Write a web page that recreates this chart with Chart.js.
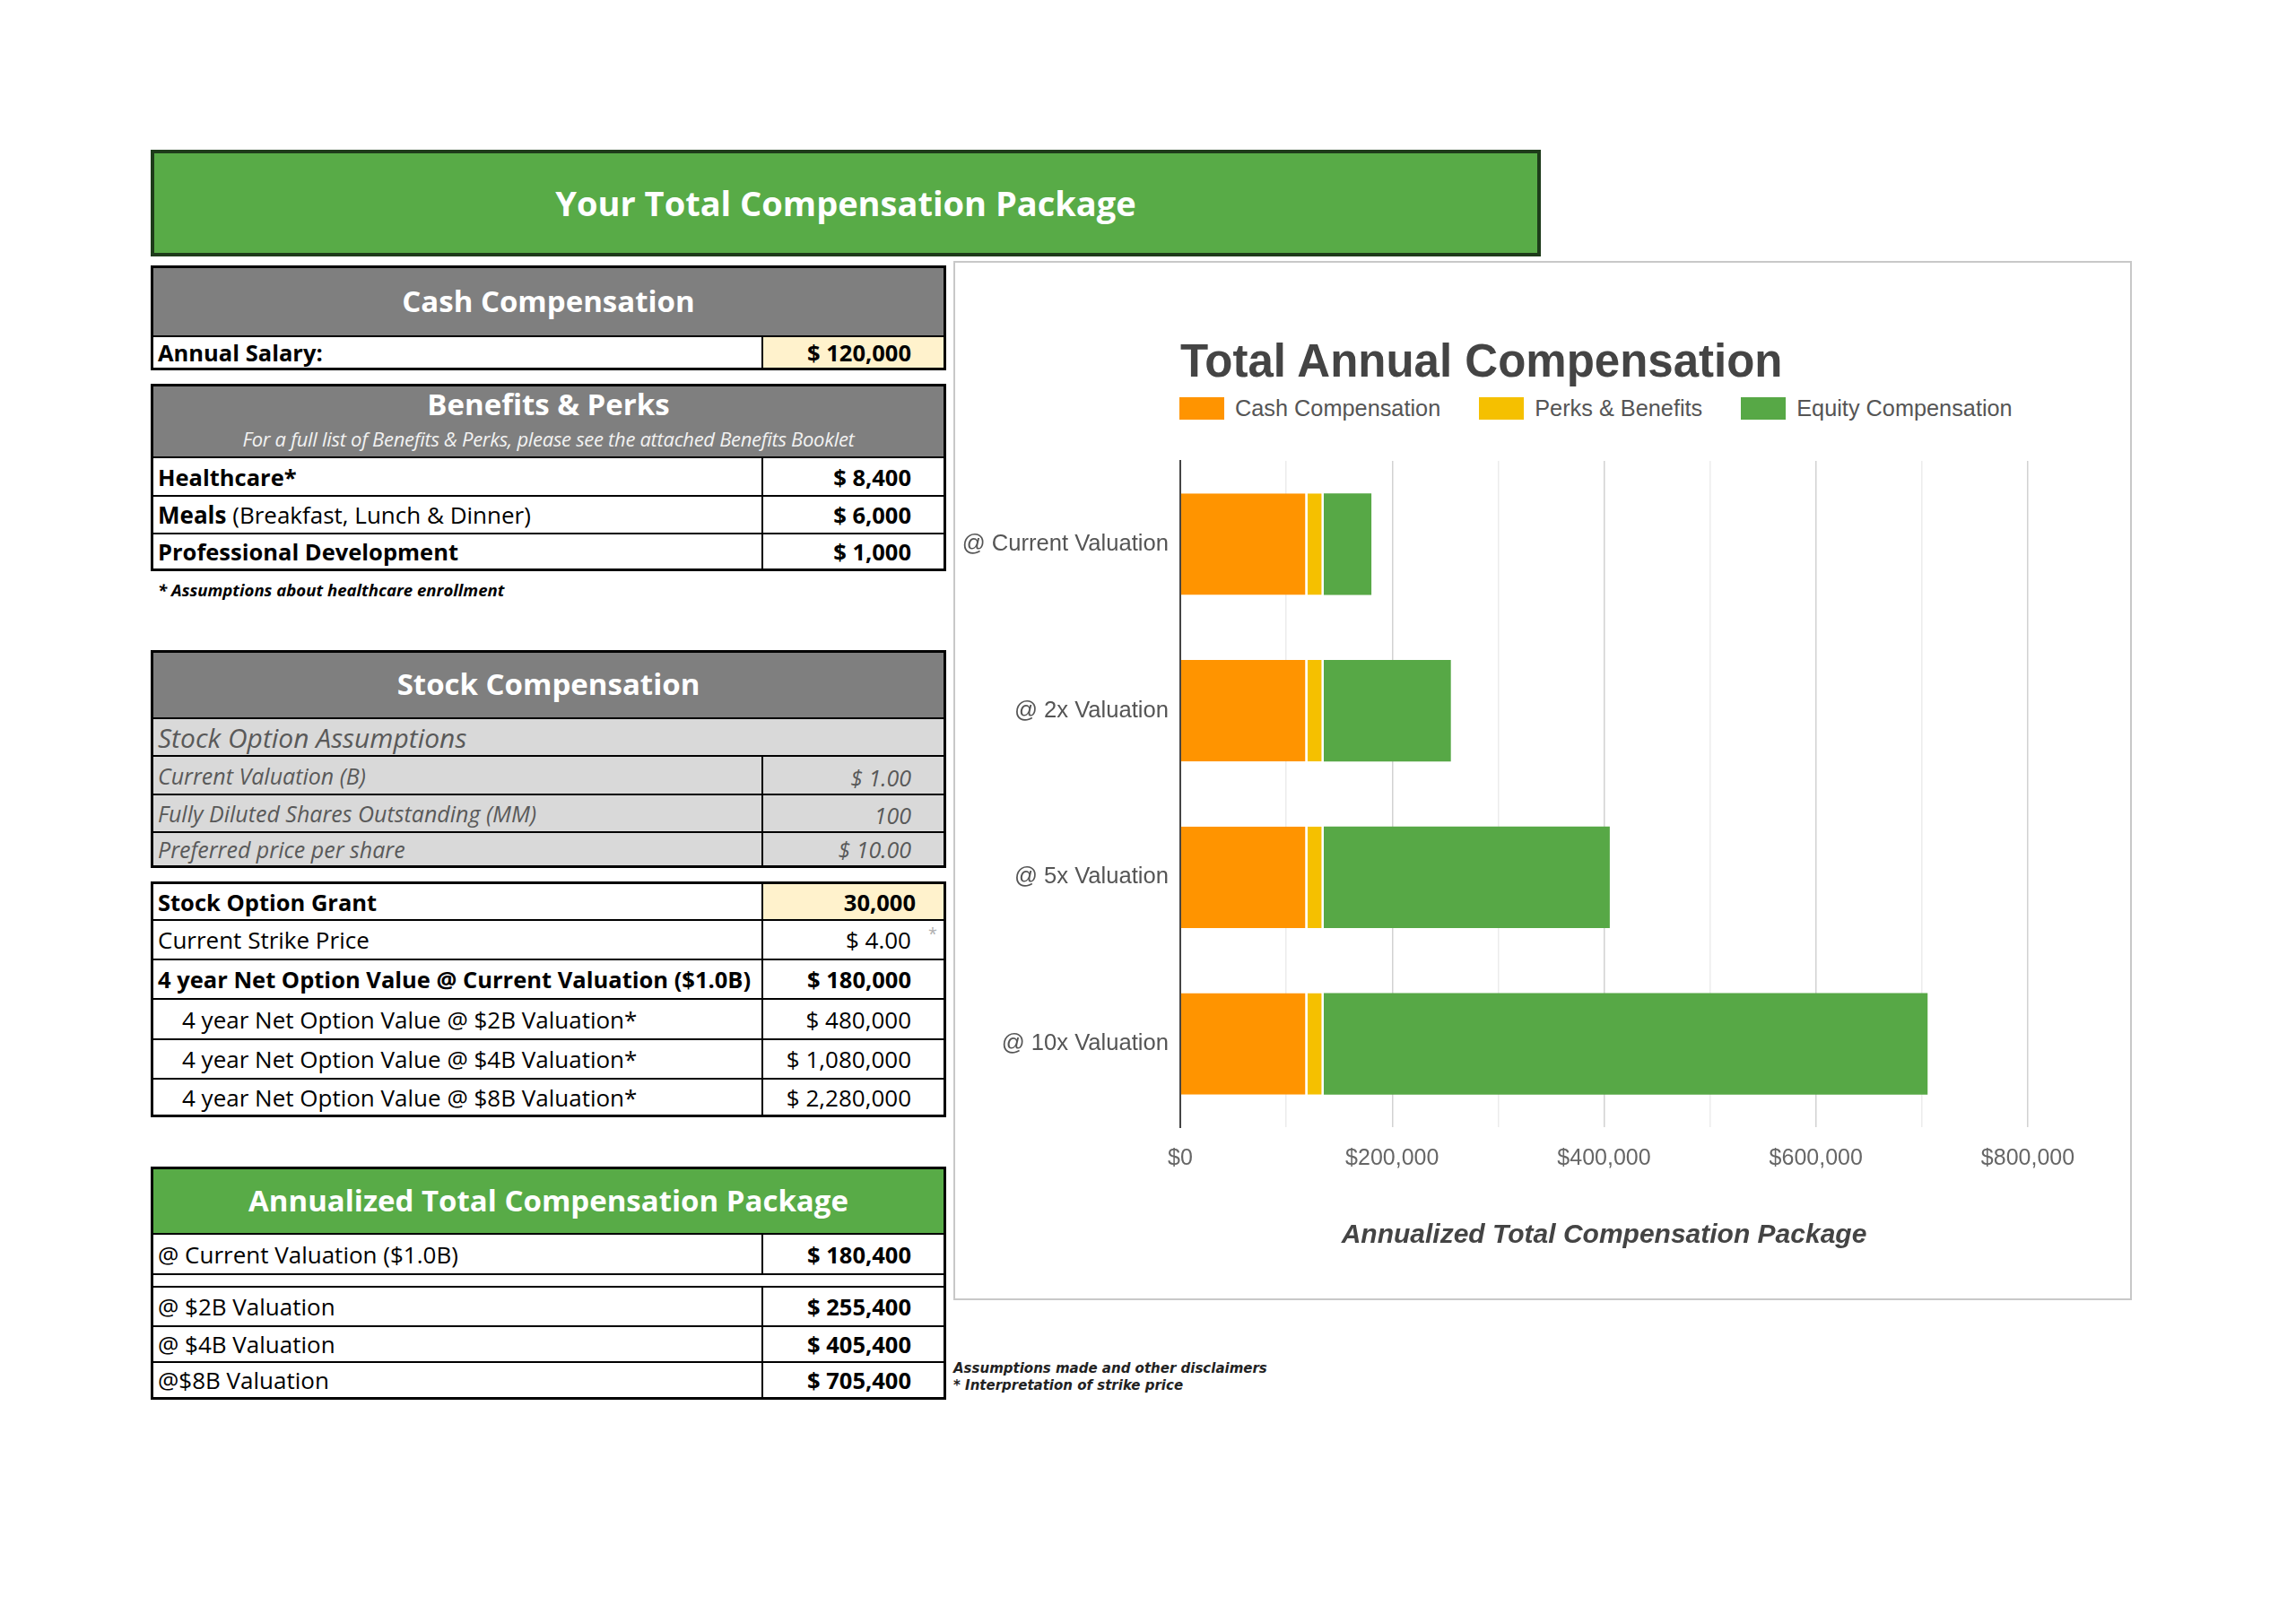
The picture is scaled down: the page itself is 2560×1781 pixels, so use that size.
<!DOCTYPE html>
<html lang="en">
<head>
<meta charset="UTF-8">
<title>Your Total Compensation Package</title>
<script src="https://cdn.jsdelivr.net/npm/chart.js"></script>
<style>
  body { margin: 0; width: 2560px; height: 1781px; background: #fff; position: relative; font-family: 'Open Sans', sans-serif; color: #000; overflow: hidden; }
  .banner { position: absolute; left: 168px; top: 167px; width: 1550px; height: 119px; box-sizing: border-box; border: 4px solid #1e3b1a; background: #58ab47; color: #fff; font-weight: 700; font-size: 38px; display: flex; align-items: center; justify-content: center; padding-bottom: 2px; }
  .sec { position: absolute; left: 168px; width: 887px; box-sizing: border-box; border: 3px solid #000; }
  .hd { background: #7f7f7f; color: #fff; font-weight: 700; font-size: 33px; display: flex; align-items: center; justify-content: center; padding-bottom: 3px; box-sizing: border-box; }
  .hd.green { background: #58ab47; }
  .row { display: flex; box-sizing: border-box; border-top: 2px solid #000; font-size: 26px; }
  .row.first { border-top: none; }
  .l { flex: 0 0 680px; box-sizing: border-box; border-right: 2px solid #000; padding-left: 5px; display: flex; align-items: center; white-space: nowrap; }
  .v { flex: 1; display: flex; align-items: center; justify-content: flex-end; padding-right: 36px; white-space: nowrap; position: relative; }
  .b { font-weight: 700; font-size: 25.5px; }
  .cream { background: #fff2cc; }
  .gray { background: #d9d9d9; color: #595959; font-style: italic; font-size: 25px; }
  .gray .v { align-items: flex-end; padding-bottom: 1px; }
  .ind { padding-left: 32px; }
  .note { position: absolute; white-space: nowrap; }
  .panel { position: absolute; left: 1063px; top: 291px; width: 1314px; height: 1159px; box-sizing: border-box; border: 2px solid #c8c8c8; }
  #chartBox { position: absolute; left: 1063px; top: 291px; width: 1314px; height: 1159px; }
  .ctitle { position: absolute; left: 1316px; top: 373px; font: bold 51px 'Liberation Sans', Arial, sans-serif; line-height: 60px; color: #444; white-space: nowrap; }
  #legend { position: absolute; left: 1315px; top: 443px; display: flex; font: 25.3px 'Liberation Sans', Arial, sans-serif; color: #555; line-height: 25px; }
  #legend .item { display: flex; align-items: center; margin-right: 43px; white-space: nowrap; }
  #legend .sw { width: 50px; height: 25px; margin-right: 12px; }
</style>
</head>
<body>
  <div class="banner">Your Total Compensation Package</div>

  <!-- Cash -->
  <div class="sec" style="top:296px;height:117px">
    <div class="hd" style="height:75px">Cash Compensation</div>
    <div class="row" style="height:36px"><div class="l b">Annual Salary:</div><div class="v b cream">$ 120,000</div></div>
  </div>

  <!-- Benefits -->
  <div class="sec" style="top:428px;height:209px">
    <div class="hd" style="height:78px;flex-direction:column;justify-content:flex-start;padding-bottom:0">
      <div style="line-height:40px;margin-top:0">Benefits &amp; Perks</div>
      <div style="line-height:26px;margin-top:5px;font-size:22px;font-weight:400;font-style:italic;color:#f2f2f2;letter-spacing:-0.3px">For a full list of Benefits &amp; Perks, please see the attached Benefits Booklet</div>
    </div>
    <div class="row" style="height:43px"><div class="l b">Healthcare*</div><div class="v b">$ 8,400</div></div>
    <div class="row" style="height:42px"><div class="l"><b>Meals</b>&nbsp;(Breakfast, Lunch &amp; Dinner)</div><div class="v b">$ 6,000</div></div>
    <div class="row" style="height:40px"><div class="l b">Professional Development</div><div class="v b">$ 1,000</div></div>
  </div>
  <div class="note" style="left:176px;top:646px;font-size:18.6px;font-weight:700;font-style:italic;line-height:24px">* Assumptions about healthcare enrollment</div>

  <!-- Stock -->
  <div class="sec" style="top:725px;height:243px">
    <div class="hd" style="height:72px">Stock Compensation</div>
    <div class="row gray" style="height:42px;font-size:30px;align-items:flex-end;padding-left:5px;line-height:38px">Stock Option Assumptions</div>
    <div class="row gray" style="height:43px"><div class="l">Current Valuation (B)</div><div class="v">$ 1.00</div></div>
    <div class="row gray" style="height:42px"><div class="l">Fully Diluted Shares Outstanding (MM)</div><div class="v">100</div></div>
    <div class="row gray" style="height:38px"><div class="l">Preferred price per share</div><div class="v">$ 10.00</div></div>
  </div>

  <div class="sec" style="top:983px;height:263px">
    <div class="row first" style="height:39px"><div class="l b">Stock Option Grant</div><div class="v b cream" style="padding-right:31px">30,000</div></div>
    <div class="row" style="height:44px"><div class="l">Current Strike Price</div><div class="v">$ 4.00<span style="position:absolute;right:7px;top:2px;font-size:18px;color:#b0b0b0">*</span></div></div>
    <div class="row" style="height:44px"><div class="l b">4 year Net Option Value @ Current Valuation ($1.0B)</div><div class="v b">$ 180,000</div></div>
    <div class="row" style="height:45px"><div class="l ind">4 year Net Option Value @ $2B Valuation*</div><div class="v">$ 480,000</div></div>
    <div class="row" style="height:44px"><div class="l ind">4 year Net Option Value @ $4B Valuation*</div><div class="v">$ 1,080,000</div></div>
    <div class="row" style="height:41px"><div class="l ind">4 year Net Option Value @ $8B Valuation*</div><div class="v">$ 2,280,000</div></div>
  </div>

  <!-- Annualized -->
  <div class="sec" style="top:1301px;height:260px">
    <div class="hd green" style="height:71px">Annualized Total Compensation Package</div>
    <div class="row" style="height:45px"><div class="l">@ Current Valuation ($1.0B)</div><div class="v b">$ 180,400</div></div>
    <div class="row" style="height:14px"></div>
    <div class="row" style="height:44px"><div class="l">@ $2B Valuation</div><div class="v b">$ 255,400</div></div>
    <div class="row" style="height:40px"><div class="l">@ $4B Valuation</div><div class="v b">$ 405,400</div></div>
    <div class="row" style="height:40px"><div class="l">@$8B Valuation</div><div class="v b">$ 705,400</div></div>
  </div>

  <div class="note" style="left:1063px;top:1517px;font:italic bold 15px 'DejaVu Sans', sans-serif;line-height:19px;color:#222">Assumptions made and other disclaimers<br>* Interpretation of strike price</div>

  <!-- Chart -->
  <div class="panel"></div>
  <div class="ctitle">Total Annual Compensation</div>
  <div id="legend"></div>
  <div id="chartBox"><canvas id="compChart" width="1314" height="1159"></canvas></div>

  <script>
    const categories = ["@ Current Valuation", "@ 2x Valuation", "@ 5x Valuation", "@ 10x Valuation"];
    const seriesNames = ["Cash Compensation", "Perks & Benefits", "Equity Compensation"];
    const seriesColors = ["#ff9400", "#f5c000", "#57a846"];
    const cashComp = [120000, 120000, 120000, 120000];
    const perksBenefits = [15400, 15400, 15400, 15400];
    const equityComp = [45000, 120000, 270000, 570000];
    const xTicks = [0, 200000, 400000, 600000, 800000];

    const seriesValues = [cashComp, perksBenefits, equityComp];

    // legend in html, so it lines up with the plot's left edge
    const legendEl = document.getElementById("legend");
    seriesNames.forEach((name, i) => {
      legendEl.innerHTML += `<div class="item"><div class="sw" style="background:${seriesColors[i]}"></div>${name}</div>`;
    });

    Chart.defaults.font.family = "'Liberation Sans', Arial, sans-serif";

    const ctx = document.getElementById("compChart").getContext("2d");
    new Chart(ctx, {
      type: "bar",
      data: {
        labels: categories,
        datasets: seriesNames.map((name, i) => ({
          label: name,
          data: seriesValues[i],
          backgroundColor: seriesColors[i],
          borderColor: "#ffffff",
          borderWidth: { top: 0, bottom: 0, left: 0, right: i < 2 ? 2.5 : 0 },
          borderSkipped: false,
          barPercentage: 0.61,
          categoryPercentage: 1
        }))
      },
      options: {
        indexAxis: "y",
        responsive: false,
        animation: false,
        devicePixelRatio: 1,
        layout: { padding: { top: 223, right: 116, bottom: 0, left: 0 } },
        plugins: {
          legend: { display: false },
          tooltip: { enabled: false }
        },
        scales: {
          x: {
            stacked: true,
            min: xTicks[0],
            max: xTicks[xTicks.length - 1],
            afterFit: s => { s.height = 193; },
            ticks: {
              stepSize: 100000,
              autoSkip: false,
              maxRotation: 0,
              padding: 20,
              color: "#666",
              font: { size: 25 },
              callback: v => xTicks.includes(v) ? "$" + v.toLocaleString("en-US") : ""
            },
            grid: {
              drawTicks: false,
              lineWidth: 1.5,
              color: c => (c.tick && xTicks.includes(c.tick.value)) ? "#d2d2d2" : "#ececec"
            },
            border: { display: false },
            title: {
              display: true,
              text: "Annualized Total Compensation Package",
              color: "#444",
              font: { size: 30, style: "italic", weight: "bold" },
              padding: { top: 0, bottom: 54 }
            }
          },
          y: {
            stacked: true,
            afterFit: s => { s.width = 253; },
            ticks: { color: "#555", font: { size: 25.6 }, padding: 13 },
            grid: { display: false, drawTicks: false },
            border: { display: true, color: "#444", width: 2 }
          }
        }
      }
    });
  </script>
</body>
</html>
